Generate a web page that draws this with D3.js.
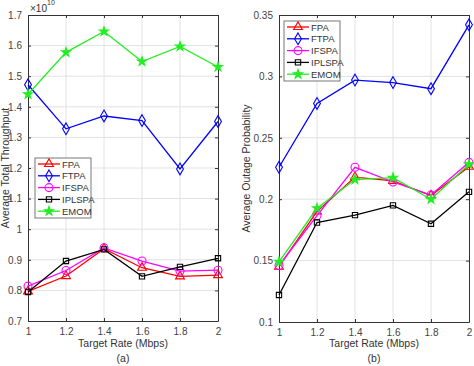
<!DOCTYPE html>
<html lang="en">
<head>
<meta charset="UTF-8">
<script src="https://d3js.org/d3.v7.min.js"></script>
<style>
    body { margin: 0; background: #fff; }
    text { font-family: "Liberation Sans", Arial, sans-serif; fill: #333; }
    .tick text { font-size: 10px; fill: #444; }
    .label { font-size: 10.5px; text-anchor: middle; }
    .grid line { stroke: #e2e2e2; stroke-width: 1px; }
    .legend text { font-size: 9.5px; }
</style>
</head>
<body>
<svg id="chart" width="474" height="366"></svg>
<script>
    // data
    const rates = [1, 1.2, 1.4, 1.6, 1.8, 2];
    const xTicks = [1, 1.2, 1.4, 1.6, 1.8, 2];
    const seriesNames = ["FPA", "FTPA", "IFSPA", "IPLSPA", "EMOM"];

    // (a) average total throughput, x 1e10
    const thrFPA    = [0.797, 0.847, 0.936, 0.874, 0.846, 0.850];
    const thrFTPA   = [1.472, 1.328, 1.370, 1.355, 1.197, 1.352];
    const thrIFSPA  = [0.814, 0.865, 0.939, 0.896, 0.863, 0.866];
    const thrIPLSPA = [0.795, 0.896, 0.934, 0.846, 0.877, 0.905];
    const thrEMOM   = [1.441, 1.578, 1.646, 1.548, 1.597, 1.530];
    const thrTicks  = [0.7, 0.8, 0.9, 1, 1.1, 1.2, 1.3, 1.4, 1.5, 1.6, 1.7];

    // (b) average outage probability
    const outFPA    = [0.145, 0.190, 0.218, 0.215, 0.203, 0.2265];
    const outFTPA   = [0.226, 0.278, 0.297, 0.295, 0.290, 0.342];
    const outIFSPA  = [0.146, 0.1866, 0.226, 0.214, 0.2034, 0.230];
    const outIPLSPA = [0.122, 0.181, 0.187, 0.195, 0.180, 0.206];
    const outEMOM   = [0.149, 0.1926, 0.216, 0.2175, 0.200, 0.2284];
    const outTicks  = [0.1, 0.15, 0.2, 0.25, 0.3, 0.35];

    const colors = { FPA: "#ff0000", FTPA: "#0000ff", IFSPA: "#ff00ff", IPLSPA: "#000000", EMOM: "#22ee22" };
    const symbols = { FPA: d3.symbolTriangle, FTPA: d3.symbolDiamond, IFSPA: d3.symbolCircle, IPLSPA: d3.symbolSquare, EMOM: d3.symbolStar };
    const symSize = { FPA: 34, FTPA: 40, IFSPA: 50, IPLSPA: 28, EMOM: 26 };

    const svg = d3.select("#chart");

    function drawPanel(opts) {
        const x = d3.scaleLinear().domain([1, 2]).range([opts.left, opts.right]);
        const y = d3.scaleLinear().domain(opts.yDomain).range([opts.bottom, opts.top]);
        const g = svg.append("g");

        // grid
        const grid = g.append("g").attr("class", "grid");
        grid.selectAll(".gx").data(xTicks.slice(1, -1)).enter().append("line")
            .attr("x1", d => x(d)).attr("x2", d => x(d))
            .attr("y1", opts.top).attr("y2", opts.bottom);
        grid.selectAll(".gy").data(opts.yTicks.slice(1, -1)).enter().append("line")
            .attr("y1", d => y(d)).attr("y2", d => y(d))
            .attr("x1", opts.left).attr("x2", opts.right);

        // axes
        const xAxis = d3.axisBottom(x).tickValues(xTicks).tickFormat(d3.format("")).tickSizeInner(-3).tickSizeOuter(0).tickPadding(7);
        const yAxis = d3.axisLeft(y).tickValues(opts.yTicks).tickFormat(d3.format("")).tickSizeInner(-3).tickSizeOuter(0).tickPadding(6);
        const xTop = d3.axisTop(x).tickValues(xTicks).tickFormat("").tickSizeInner(-3).tickSizeOuter(0);
        const yRight = d3.axisRight(y).tickValues(opts.yTicks).tickFormat("").tickSizeInner(-3).tickSizeOuter(0);
        [[xAxis, `translate(0,${opts.bottom})`], [yAxis, `translate(${opts.left},0)`],
         [xTop, `translate(0,${opts.top})`], [yRight, `translate(${opts.right},0)`]].forEach(([ax, tr]) => {
            const a = g.append("g").attr("transform", tr).call(ax);
            a.selectAll("path, line").attr("stroke", "#333");
        });

        // lines and markers
        opts.series.forEach((vals, i) => {
            const name = seriesNames[i];
            const pts = rates.map((r, j) => [r, vals[j]]);
            g.append("path").datum(pts)
                .attr("fill", "none").attr("stroke", colors[name]).attr("stroke-width", 1.3)
                .attr("d", d3.line().x(d => x(d[0])).y(d => y(d[1])));
            g.selectAll(".m" + name).data(pts).enter().append("path")
                .attr("transform", d => `translate(${x(d[0])},${y(d[1])})`)
                .attr("d", d3.symbol().type(symbols[name]).size(symSize[name]))
                .attr("fill", name === "EMOM" ? colors[name] : "none")
                .attr("stroke", colors[name]).attr("stroke-width", 1.1);
        });

        // legend
        const lg = g.append("g").attr("class", "legend");
        lg.append("rect").attr("x", opts.legX).attr("y", opts.legY)
            .attr("width", 56).attr("height", 60)
            .attr("fill", "#fff").attr("stroke", "#555").attr("stroke-width", 0.8);
        seriesNames.forEach((name, i) => {
            const yy = opts.legY + 6 + i * 11.8;
            lg.append("line").attr("x1", opts.legX + 3).attr("x2", opts.legX + 25)
                .attr("y1", yy).attr("y2", yy).attr("stroke", colors[name]).attr("stroke-width", 1.3);
            lg.append("path").attr("transform", `translate(${opts.legX + 14},${yy})`)
                .attr("d", d3.symbol().type(symbols[name]).size(symSize[name]))
                .attr("fill", name === "EMOM" ? colors[name] : "none")
                .attr("stroke", colors[name]).attr("stroke-width", 1.1);
            lg.append("text").attr("x", opts.legX + 27).attr("y", yy + 3.5).text(name);
        });

        // labels
        const cx = (opts.left + opts.right) / 2;
        g.append("text").attr("class", "label").attr("x", cx).attr("y", 347).text("Target Rate (Mbps)");
        g.append("text").attr("class", "label").attr("x", cx).attr("y", 362).text(opts.tag);
        g.append("text").attr("class", "label")
            .attr("transform", `translate(${opts.yLabelX},${(opts.top + opts.bottom) / 2}) rotate(-90)`)
            .text(opts.yLabel);
    }

    drawPanel({
        left: 28, right: 218, top: 15, bottom: 321,
        yDomain: [0.7, 1.7], yTicks: thrTicks,
        series: [thrFPA, thrFTPA, thrIFSPA, thrIPLSPA, thrEMOM],
        legX: 35, legY: 158, tag: "(a)", yLabel: "Average Total Throughput", yLabelX: 9
    });
    drawPanel({
        left: 279, right: 469, top: 15, bottom: 322,
        yDomain: [0.1, 0.35], yTicks: outTicks,
        series: [outFPA, outFTPA, outIFSPA, outIPLSPA, outEMOM],
        legX: 284, legY: 21, tag: "(b)", yLabel: "Average Outage Probability", yLabelX: 250
    });

    // exponent label
    svg.append("text").attr("x", 30).attr("y", 12).attr("font-size", "10px").text("\u00d710");
    svg.append("text").attr("x", 47).attr("y", 5).attr("font-size", "7px").text("10");
</script>
</body>
</html>
